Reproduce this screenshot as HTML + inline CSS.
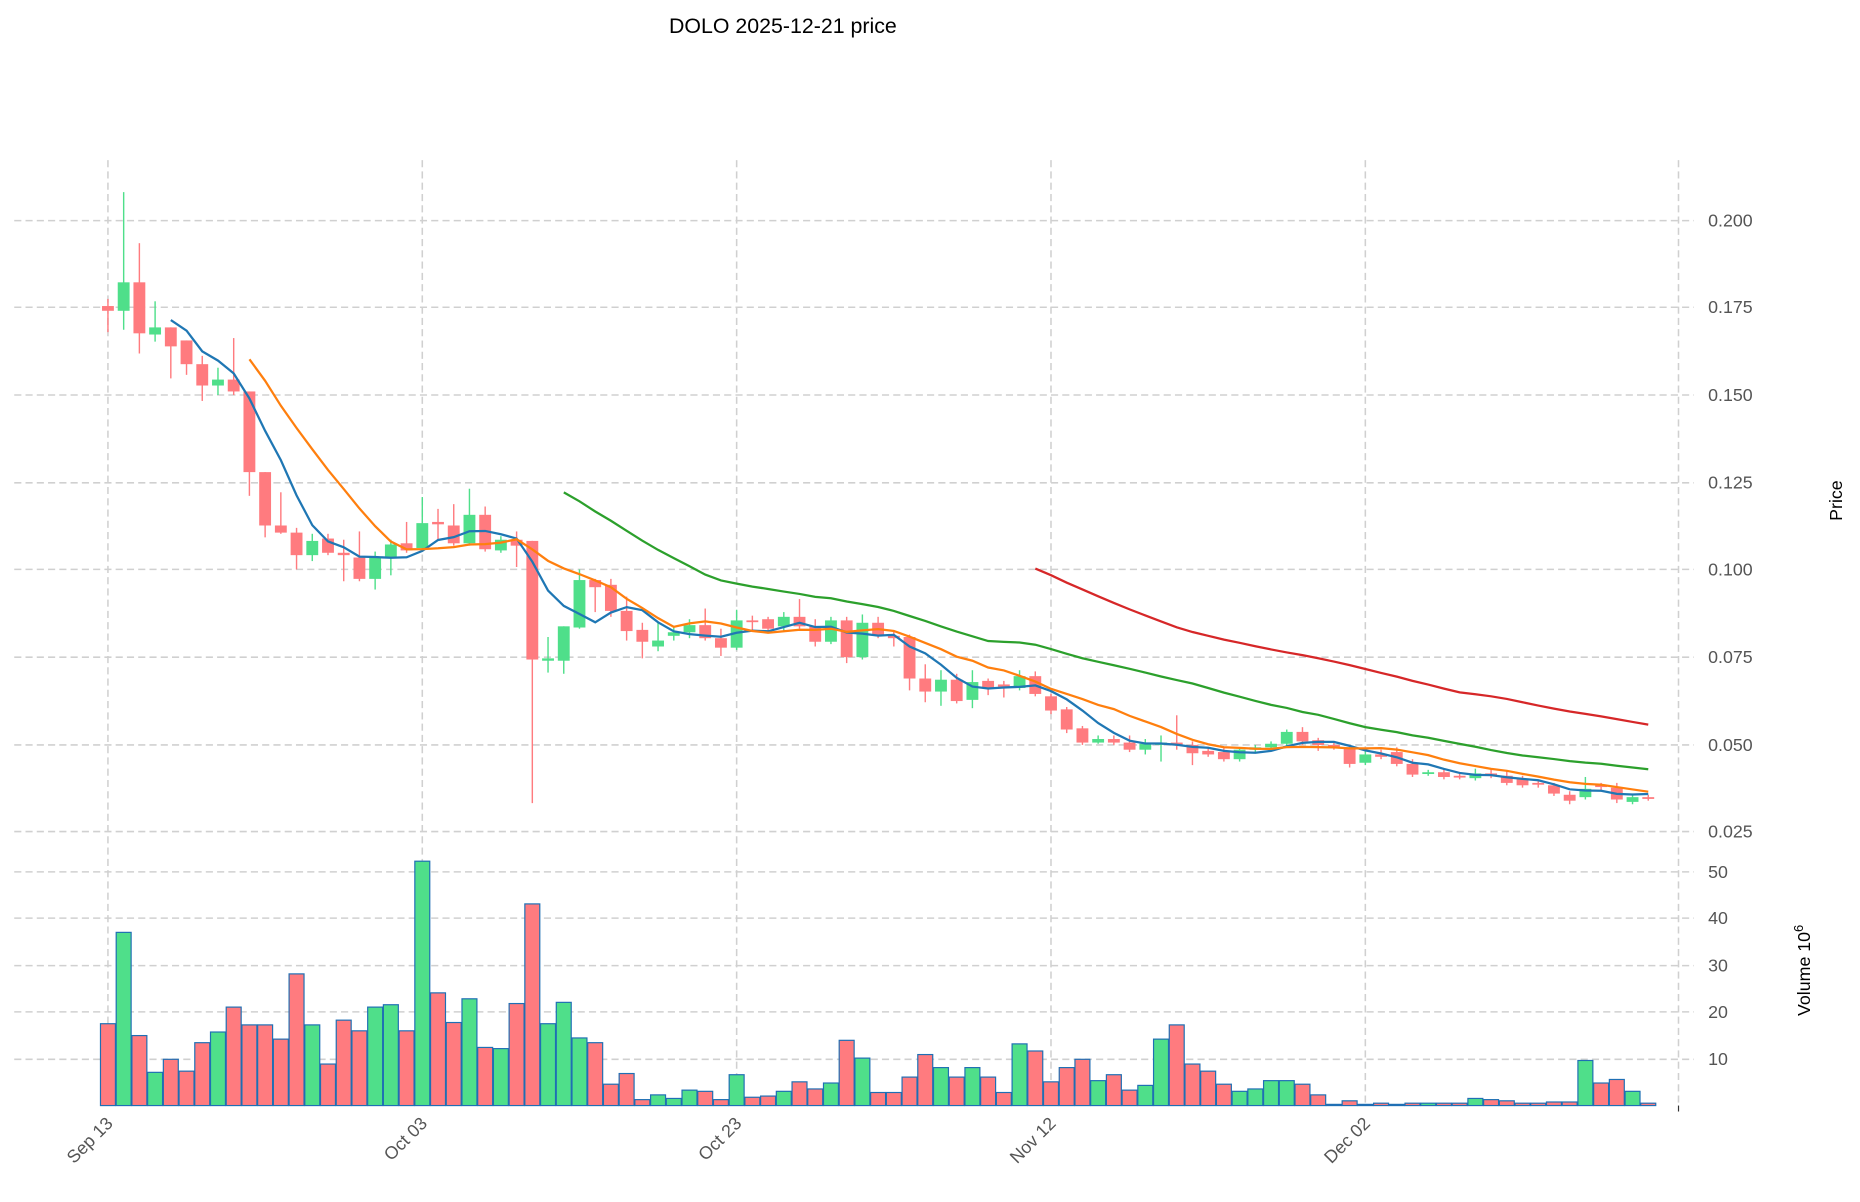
<!DOCTYPE html>
<html><head><meta charset="utf-8"><style>
body{margin:0;background:#fff;}
svg{display:block;font-family:"Liberation Sans","DejaVu Sans",sans-serif;}
</style></head><body>
<svg id="s" width="1860" height="1202" viewBox="0 0 1568 1013.3" preserveAspectRatio="none" xmlns="http://www.w3.org/2000/svg">
<rect width="1568" height="1014" fill="#fff"/>
<text x="660" y="28" font-size="18" text-anchor="middle" fill="#000">DOLO  2025-12-21  price</text>
<g id="grid" stroke="#d0d0d0" stroke-width="1.3" stroke-dasharray="6,3.5"></g>
<g id="vol"></g><g id="cand"></g><g id="ma" fill="none" stroke-width="1.9"></g>
<g id="lab" font-size="15" fill="#555"></g>
<text transform="translate(1553,422) rotate(-90)" font-size="15" text-anchor="middle">Price</text>
<text transform="translate(1526,818) rotate(-90)" font-size="15" text-anchor="middle">Volume  10<tspan dy="-6" font-size="11">6</tspan></text>
</svg>
<script>
const NS="http://www.w3.org/2000/svg";
function el(p,t,a,txt){const e=document.createElementNS(NS,t);for(const k in a)e.setAttribute(k,a[k]);if(txt!==undefined)e.textContent=txt;p.appendChild(e);return e;}
const G=document.getElementById('grid'),L=document.getElementById('lab');
[186,259,333,407,480,554,628,701].forEach((y,i)=>{el(G,'line',{x1:12,x2:1428,y1:y,y2:y});el(L,'text',{x:1440,y:y+5},['0.200','0.175','0.150','0.125','0.100','0.075','0.050','0.025'][i]);});
[735,774,814,853,893].forEach((y,i)=>{el(G,'line',{x1:12,x2:1428,y1:y,y2:y});el(L,'text',{x:1440,y:y+5},['50','40','30','20','10'][i]);});
const dates=['Sep 13','Oct 03','Oct 23','Nov 12','Dec 02'];
[91,356,621,886,1151,1415].forEach((x,i)=>{el(G,'line',{x1:x,x2:x,y1:135,y2:932});
 if(i<5)el(L,'text',{transform:`translate(${x+5},${948}) rotate(-45)`,'text-anchor':'end'},dates[i]);});
el(L,'line',{x1:1415,x2:1415,y1:932,y2:937,stroke:'#333'});
const C=[[258,262,252,280],[262,238,162,278],[238,281,205,298],[282,276,254,288],[276,292,276,319],[287,307,287,316],[307,325,300,338],[325,320,310,333],[320,330,285,333],[330,398,330,418],[398,443,398,453],[443,449,415,450],[449,468,445,480],[468,456,450,473],[454,466,450,468],[466,468,455,490],[470,488,448,490],[488,470,465,497],[470,459,455,485],[458,464,440,466],[462,441,419,465],[440,442,429,455],[443,458,425,460],[458,434,412,460],[434,463,427,465],[464,455,452,466],[455,460,448,478],[456,556,456,677],[557,555,537,567],[557,528,528,568],[529,489,480,530],[489,495,488,516],[493,515,488,520],[515,532,503,540],[531,541,525,555],[545,540,525,549],[536,533,528,540],[533,527,522,538],[527,538,513,540],[538,546,530,553],[546,523,514,548],[523,524,519,531],[522,530,520,532],[528,520,516,532],[520,528,505,530],[528,541,522,545],[541,523,520,543],[523,554,520,559],[554,525,518,556],[525,536,520,538],[536,538,532,545],[537,572,535,582],[572,583,560,592],[583,573,565,595],[573,591,568,593],[590,575,565,597],[574,580,572,586],[577,579,574,588],[580,570,565,582],[570,585,566,587],[587,599,585,602],[598,615,596,618],[614,626,612,628],[626,623,620,627],[623,626,620,628],[626,632,620,634],[632,627,623,636],[628,626,620,642],[626,628,603,632],[628,635,625,645],[633,636,630,638],[634,640,630,642],[640,632,630,642],[632,630,628,634],[630,627,625,632],[627,617,615,630],[617,625,613,628],[624,628,622,633],[628,630,625,632],[630,644,628,647],[643,636,632,645],[636,638,632,640],[634,644,630,646],[644,653,640,655],[652,651,649,654],[651,655,648,657],[654,655,651,657],[656,652,648,658],[652,654,649,656],[654,660,650,662],[657,662,654,664],[660,661,658,664],[662,669,660,671],[670,675,667,678],[672,665,655,674],[662,663,660,666],[664,674,660,677],[676,672,670,678],[672,673,670,675]];
const V=[863,786,873,904,893,903,879,870,849,864,864,876,821,864,897,860,869,849,847,869,726,837,862,842,883,884,846,762,863,845,875,879,914,905,927,923,926,919,920,927,906,925,924,920,912,918,913,877,892,921,921,908,889,900,908,900,908,921,880,886,912,900,893,911,906,919,915,876,864,897,903,914,920,918,911,911,914,923,931,928,931,930,931,930,930,930,930,926,927,928,930,930,929,929,894,913,910,920,930];
const GR='#4fdf8a',RD='#ff7b7f',CA=document.getElementById('cand'),VO=document.getElementById('vol');
C.forEach((c,i)=>{const x=91+13.25*i,up=c[1]<c[0],col=up?GR:RD;
 el(CA,'line',{x1:x,x2:x,y1:c[2],y2:c[3],stroke:col,'stroke-width':1.2});
 const t=Math.min(c[0],c[1]),h=Math.max(1.5,Math.abs(c[0]-c[1]));
 el(CA,'rect',{x:x-5,y:t,width:10,height:h,fill:col});
 el(VO,'rect',{x:x-6.3,y:V[i],width:12.6,height:932-V[i],fill:col,stroke:'#1f6fb4','stroke-width':1});});
const M=document.getElementById('ma');
[[5,'#1f77b4'],[10,'#ff7f0e'],[30,'#2ca02c'],[60,'#d62728']].forEach(([w,col])=>{let pts=[];
 for(let i=w-1;i<C.length;i++){let s=0;for(let j=i-w+1;j<=i;j++)s+=C[j][1];pts.push((91+13.25*i).toFixed(1)+','+(s/w).toFixed(1));}
 el(M,'polyline',{points:pts.join(' '),stroke:col});});
</script>
</body></html>
